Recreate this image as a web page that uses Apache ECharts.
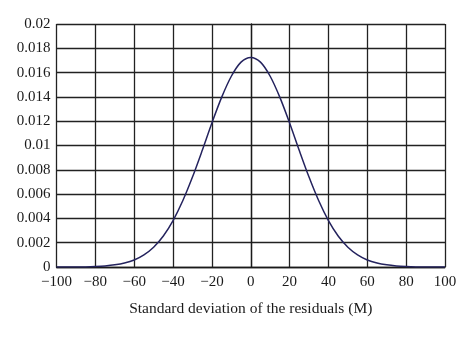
<!DOCTYPE html>
<html>
<head>
<meta charset="utf-8">
<script src="https://cdn.jsdelivr.net/npm/echarts@6/dist/echarts.min.js"></script>
<style>
  html, body { margin: 0; padding: 0; background: #fff; }
  #chart { width: 474px; height: 349px; }
</style>
</head>
<body>
<div id="chart"></div>
<script>
// Residual standard deviation (M) and its probability density
const residualSd = [-100, -95, -90, -85, -80, -75, -70, -65, -60, -55, -50, -45, -40, -35, -30, -25, -20, -15, -10, -5,
  0, 5, 10, 15, 20, 25, 30, 35, 40, 45, 50, 55, 60, 65, 70, 75, 80, 85, 90, 95, 100];
const density = [0, 0, 0, 0.00001, 0.00004, 0.00009, 0.00018, 0.00033, 0.00058, 0.00100, 0.00163, 0.00255, 0.00382, 0.00545, 0.00740, 0.00958, 0.01185, 0.01396, 0.01570, 0.01686,
  0.01725, 0.01686, 0.01570, 0.01396, 0.01185, 0.00958, 0.00740, 0.00545, 0.00382, 0.00255, 0.00163, 0.00100, 0.00058, 0.00033, 0.00018, 0.00009, 0.00004, 0.00001, 0, 0, 0];

const xTitle = 'Standard deviation of the residuals (M)';
const FONT = '"Liberation Serif", "Times New Roman", serif';

const chart = echarts.init(document.getElementById('chart'), null, { renderer: 'canvas' });
chart.setOption({
  animation: false,
  backgroundColor: '#ffffff',
  grid: { left: 56.5, right: 29, top: 24, bottom: 82, containLabel: false },
  xAxis: {
    type: 'value',
    min: -100, max: 100, interval: 20,
    name: xTitle,
    nameLocation: 'middle',
    nameGap: 34,
    nameTextStyle: { fontFamily: FONT, fontSize: 15.5, color: '#1a1a1a' },
    axisLine: { onZero: false, lineStyle: { color: '#1a1a1a', width: 1.3 } },
    axisTick: { show: false },
    axisLabel: {
      margin: 8,
      fontFamily: FONT, fontSize: 15, color: '#1a1a1a',
      formatter: v => String(v).replace('-', '\u2212')
    },
    splitLine: { show: true, lineStyle: { color: '#222', width: 1.3 } }
  },
  yAxis: {
    type: 'value',
    min: 0, max: 0.02, interval: 0.002,
    axisLine: { show: true, lineStyle: { color: '#1a1a1a', width: 1.3 } },
    axisTick: { show: false },
    axisLabel: {
      margin: 6,
      fontFamily: FONT, fontSize: 15, color: '#1a1a1a',
      formatter: v => String(parseFloat(v.toFixed(3)))
    },
    splitLine: { show: true, lineStyle: { color: '#222', width: 1.3 } }
  },
  series: [{
    type: 'line',
    data: residualSd.map((x, i) => [x, density[i]]),
    smooth: 0.3,
    showSymbol: false,
    lineStyle: { color: '#24235e', width: 1.5 }
  }]
});
</script>
</body>
</html>
